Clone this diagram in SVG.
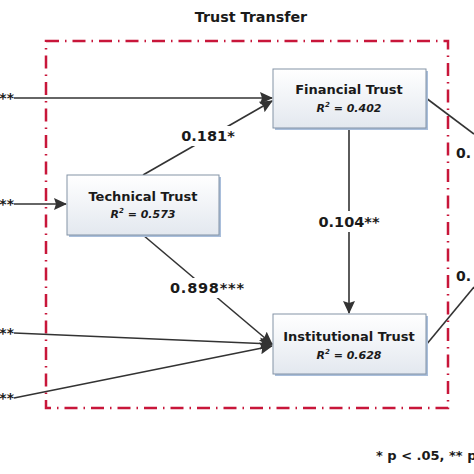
<svg xmlns="http://www.w3.org/2000/svg" width="474" height="474" viewBox="0 0 474 474">
<defs>
<linearGradient id="boxg" x1="0" y1="0" x2="0" y2="1">
<stop offset="0" stop-color="#ffffff"/>
<stop offset="1" stop-color="#e3e8ef"/>
</linearGradient>
<marker id="ah" viewBox="0 0 13 12" refX="12" refY="6" markerWidth="13" markerHeight="12" markerUnits="userSpaceOnUse" orient="auto">
<path d="M0,0 L13,6 L0,12 L2,6 Z" fill="#333"/>
</marker>
</defs>
<style>
.t{font-family:"DejaVu Sans","Liberation Sans",sans-serif;font-weight:bold;fill:#1a1a1a}
.name{font-size:13px;text-anchor:middle}
.r2{font-size:11px;font-style:italic;text-anchor:middle}
.lab{font-size:14.5px;text-anchor:middle}
.box{fill:url(#boxg);stroke:#8393a6;stroke-width:1}
.shadow{fill:#a9bedb}
.ln{stroke:#333;stroke-width:1.6;fill:none}
.frame{fill:none;stroke:#c8163a;stroke-width:2.5;stroke-dasharray:13 6 1.5 6}
.bg{fill:#fff}
</style>
<rect width="474" height="474" fill="#fff"/>
<text class="t" x="251" y="22" font-size="14.3" text-anchor="middle">Trust Transfer</text>
<rect class="frame" x="46" y="41" width="402" height="367"/>
<g id="connectors">
<line class="ln" x1="14" y1="98" x2="272" y2="98" marker-end="url(#ah)"/>
<line class="ln" x1="14" y1="204" x2="66" y2="204" marker-end="url(#ah)"/>
<line class="ln" x1="143" y1="175" x2="272" y2="101" marker-end="url(#ah)"/>
<line class="ln" x1="143" y1="235" x2="272" y2="344" marker-end="url(#ah)"/>
<line class="ln" x1="349" y1="129" x2="349" y2="313" marker-end="url(#ah)"/>
<line class="ln" x1="14" y1="333" x2="272" y2="344" marker-end="url(#ah)"/>
<line class="ln" x1="14" y1="398" x2="272" y2="346" marker-end="url(#ah)"/>
<line class="ln" x1="426" y1="98" x2="474" y2="134"/>
<line class="ln" x1="426" y1="345" x2="474" y2="287"/>
<rect class="bg" x="177" y="126" width="62" height="20"/>
<text class="t lab" x="208" y="141">0.181*</text>
<rect class="bg" x="166" y="278" width="82" height="20"/>
<text class="t lab" x="207" y="293" textLength="74" lengthAdjust="spacing">0.898***</text>
<rect class="bg" x="314" y="211" width="70" height="21"/>
<text class="t lab" x="349" y="227">0.104**</text>
<text class="t" x="14" y="103" font-size="14" text-anchor="end">**</text>
<text class="t" x="14" y="209" font-size="14" text-anchor="end">**</text>
<text class="t" x="14" y="338" font-size="14" text-anchor="end">**</text>
<text class="t" x="14" y="403" font-size="14" text-anchor="end">**</text>
<text class="t" x="456" y="158" font-size="14">0.</text>
<text class="t" x="456" y="281" font-size="14">0.</text>
</g>
<g id="financial">
<rect class="shadow" x="275" y="71" width="153" height="59"/>
<rect class="box" x="273" y="69" width="153" height="59"/>
<text class="t name" x="349" y="94">Financial Trust</text>
<text class="t r2" x="349" y="112">R<tspan font-size="7" dy="-5">2</tspan><tspan dy="5"> = 0.402</tspan></text>
</g>
<g id="technical">
<rect class="shadow" x="69" y="177" width="152" height="60"/>
<rect class="box" x="67" y="175" width="152" height="60"/>
<text class="t name" x="143" y="201">Technical Trust</text>
<text class="t r2" x="143" y="218">R<tspan font-size="7" dy="-5">2</tspan><tspan dy="5"> = 0.573</tspan></text>
</g>
<g id="institutional">
<rect class="shadow" x="275" y="316" width="153" height="60"/>
<rect class="box" x="273" y="314" width="153" height="60"/>
<text class="t name" x="349" y="341">Institutional Trust</text>
<text class="t r2" x="349" y="359">R<tspan font-size="7" dy="-5">2</tspan><tspan dy="5"> = 0.628</tspan></text>
</g>
<text class="t" x="376" y="460" font-size="13">* p &lt; .05, ** p</text>
</svg>
